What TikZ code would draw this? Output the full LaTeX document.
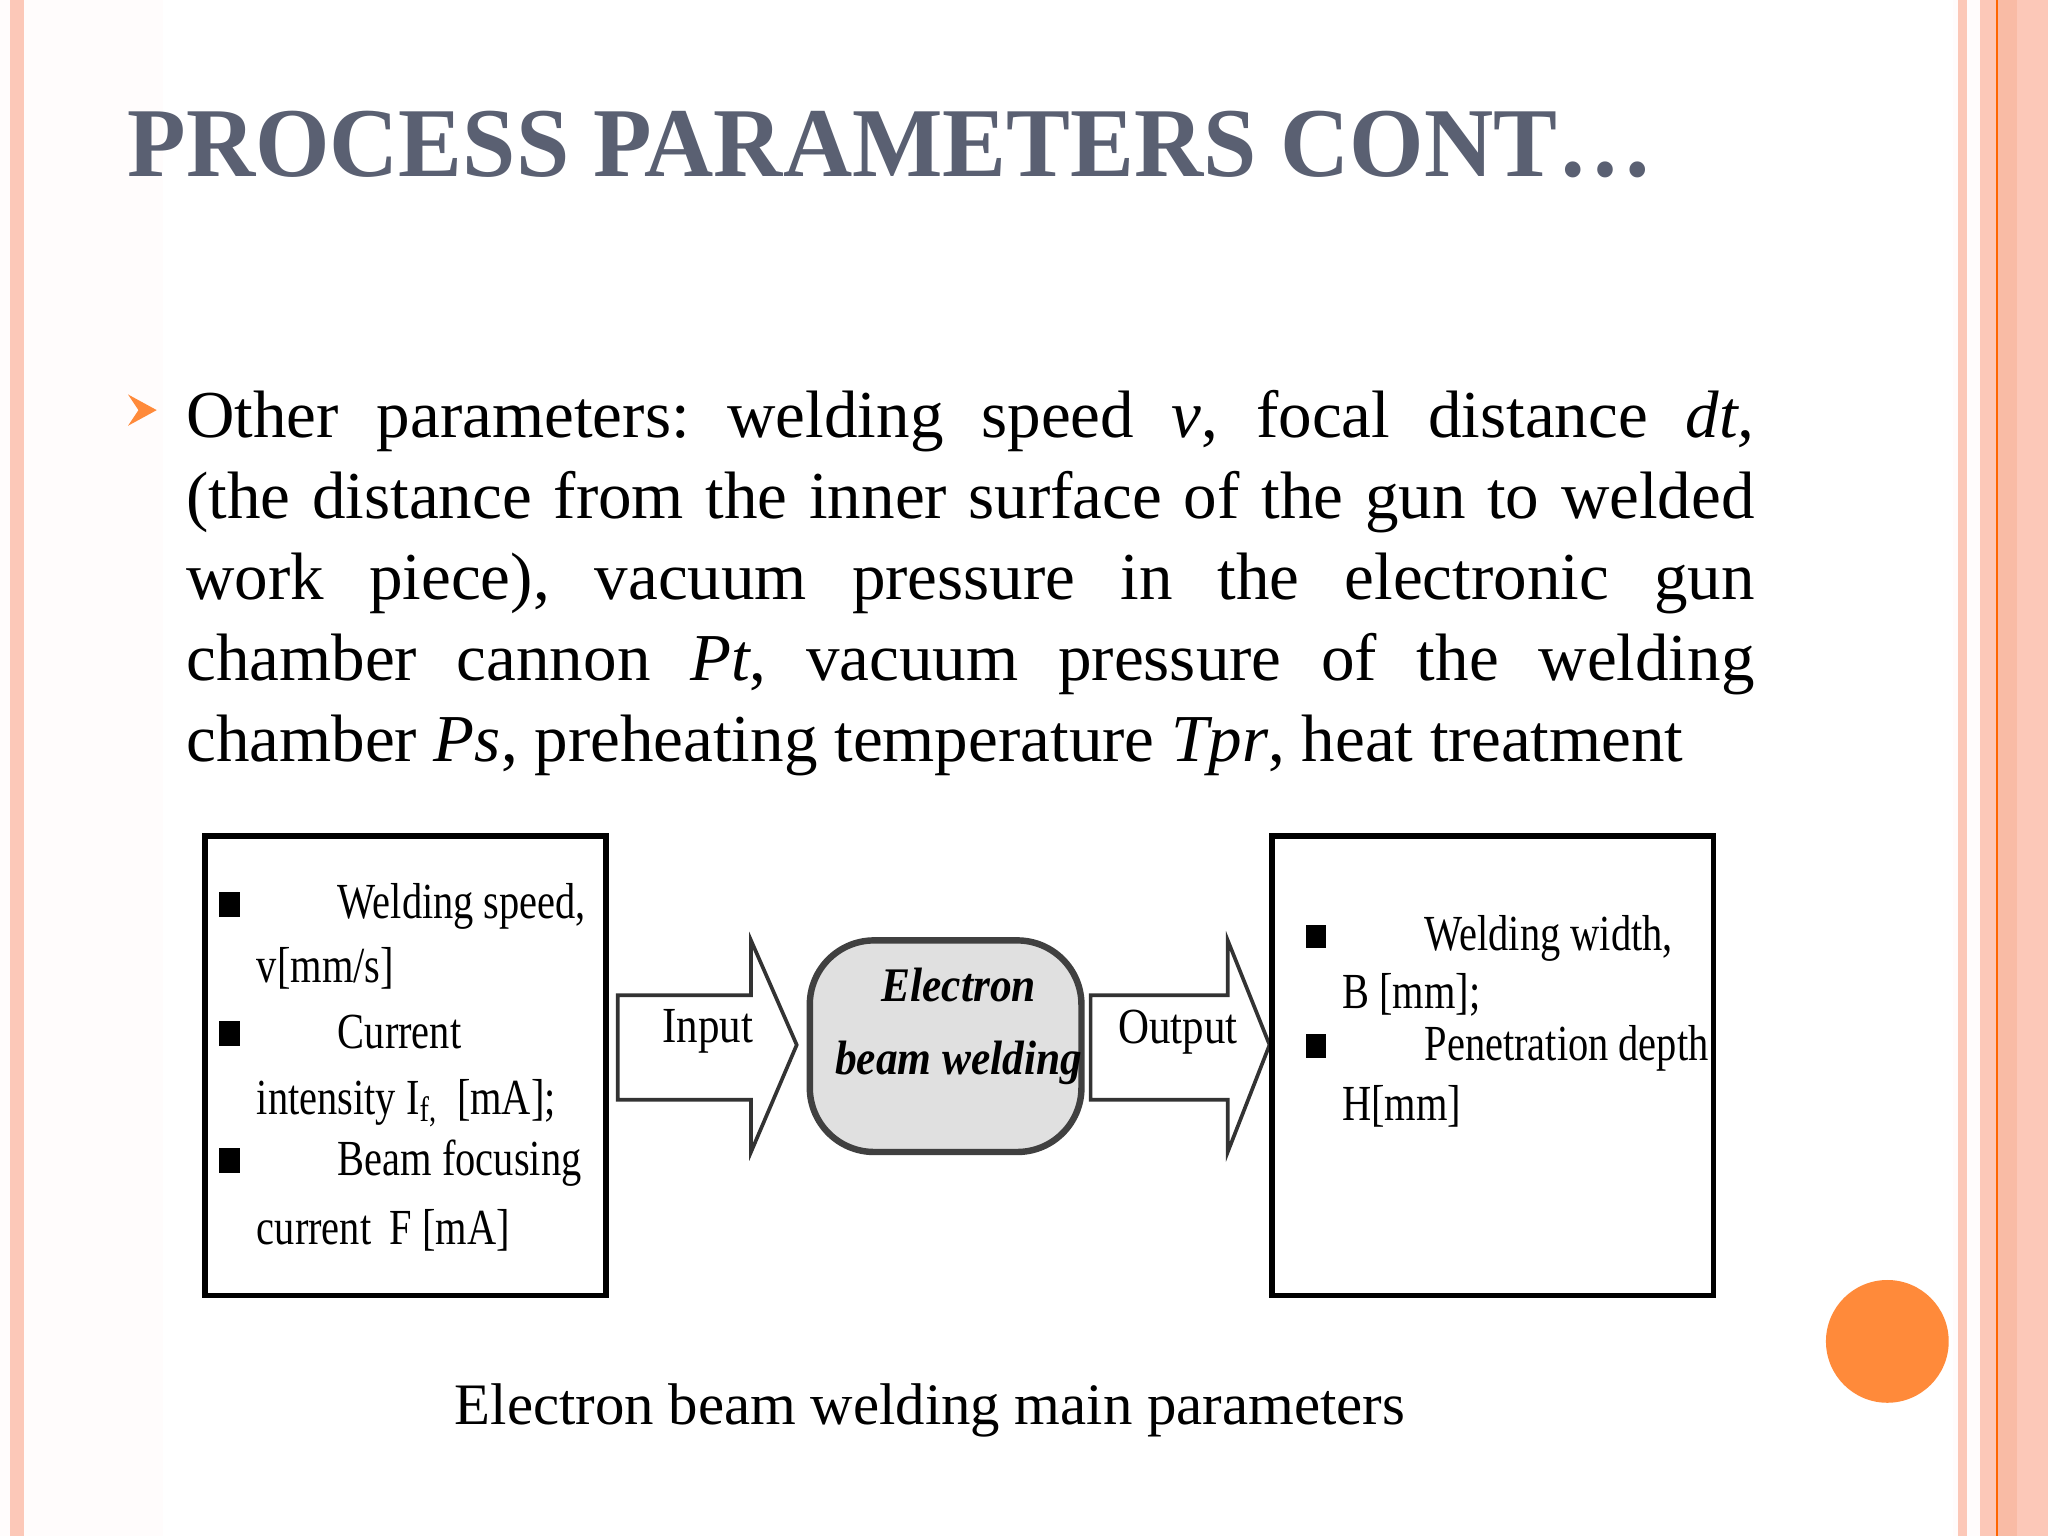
\documentclass[tikz,border=0pt]{standalone}
\usepackage{fontspec}
\setmainfont{Liberation Serif}
\definecolor{ttl}{HTML}{5A6072}
\definecolor{strp}{HTML}{FCC8B8}
\definecolor{strpd}{HTML}{F9BBA5}
\definecolor{circ}{HTML}{FF8A3A}
\begin{document}
\frenchspacing
\begin{tikzpicture}[x=0.01cm,y=-0.01cm,
  stripe/.style={fill=#1,draw=none},
  box/.style={draw=black,line width=1.2pt},
  barrow/.style={draw=black!80,line width=0.8pt,fill=white},
  lt/.style={anchor=base west,inner sep=0,font=\fontsize{11}{13}\selectfont\addfontfeature{FakeStretch=0.8}},
  sq/.style={fill=black,draw=none},
  bl/.style={anchor=base west,inner sep=0,font=\fontsize{14.6}{17}\selectfont\frenchspacing},
  lbl/.style={inner sep=0,font=\fontsize{11}{13}\selectfont\addfontfeature{FakeStretch=0.85}}]
\useasboundingbox (0,0) rectangle (1568,1176);
\fill[white!96!pink] (0,0) rectangle (1568,1176);
\fill[white] (125,0) rectangle (1495,1176);
\fill[stripe=strp] (8,0) rectangle (18,1176);
\fill[stripe=strp] (1499,0) rectangle (1506,1176);
\fill[stripe=strp] (1516,0) rectangle (1568,1176);
\fill[stripe=strpd] (1529,0) rectangle (1544,1176);
\draw[orange!80!red,line width=0.6pt] (1529,0) -- (1529,1176);
% title
\node[anchor=base west,inner sep=0,text=ttl,font=\fontsize{21.5}{26}\selectfont\bfseries\addfontfeature{FakeStretch=0.97}] (title) at (97,135) {PROCESS PARAMETERS CONT…};
% bullet
\fill[circ] (98,302) -- (120,314) -- (98,326) -- (106,314) -- cycle;
\coordinate (bul) at (108,314);
\node[bl] (b1) at (142,335) {\makebox[12cm][s]{Other parameters: welding speed \textit{v}, focal distance \textit{dt,}}};
\node[bl] (b2) at (142,397) {\makebox[12cm][s]{(the distance from the inner surface of the gun to welded}};
\node[bl] (b3) at (142,459) {\makebox[12cm][s]{work piece), vacuum pressure in the electronic gun}};
\node[bl] (b4) at (142,521) {\makebox[12cm][s]{chamber cannon \textit{Pt}, vacuum pressure of the welding}};
\node[bl] (b5) at (142,583) {chamber \textit{Ps}, preheating temperature \textit{Tpr}, heat treatment};
% left box
\draw[box] (157,640) rectangle (464,992);
\fill[sq] (168,683) rectangle (184,702);
\fill[sq] (168,782) rectangle (184,801);
\fill[sq] (168,879) rectangle (184,898);
\node[lt] (l1) at (258,703) {Welding speed,};
\node[lt] (l2) at (196,752) {v[mm/s]};
\node[lt] (l3) at (258,803) {Current};
\node[lt] (l4) at (196,853) {intensity I\textsubscript{f,}\, [mA];};
\node[lt] (l5) at (258,900) {Beam focusing};
\node[lt] (l6) at (196,953) {current\, F [mA]};
% input arrow
\draw[barrow] (473,762) -- (575,762) -- (575,720) -- (610,800) -- (575,882) -- (575,842) -- (473,842) -- cycle;
\node[lbl] (in) at (542,790) {Input};
% center box
\draw[line width=1.4pt,draw=black!75,fill=black!12,rounded corners=14] (620,720) rectangle (828,882);
\node[inner sep=0,align=center,font=\fontsize{10.5}{16}\selectfont\itshape\bfseries\addfontfeature{FakeStretch=0.9}] (ebw) at (734,786) {Electron\\beam welding};
% output arrow
\draw[barrow] (835,762) -- (940,762) -- (940,720) -- (972,800) -- (940,882) -- (940,842) -- (835,842) -- cycle;
\node[lbl] (out) at (902,790) {Output};
% right box
\draw[box] (974,640) rectangle (1312,992);
\fill[sq] (1000,708) rectangle (1015,726);
\fill[sq] (1000,792) rectangle (1015,810);
\node[lt] (r1) at (1090,728) {Welding width,};
\node[lt] (r2) at (1027,772) {B [mm];};
\node[lt] (r3) at (1090,812) {Penetration depth};
\node[lt] (r4) at (1027,858) {H[mm]};
% caption
\node[inner sep=0,font=\fontsize{12.8}{15}\selectfont] (cap) at (712,1080) {Electron beam welding main parameters};
% circle
\fill[circ] (1445,1027) circle (47);
\end{tikzpicture}
\end{document}
